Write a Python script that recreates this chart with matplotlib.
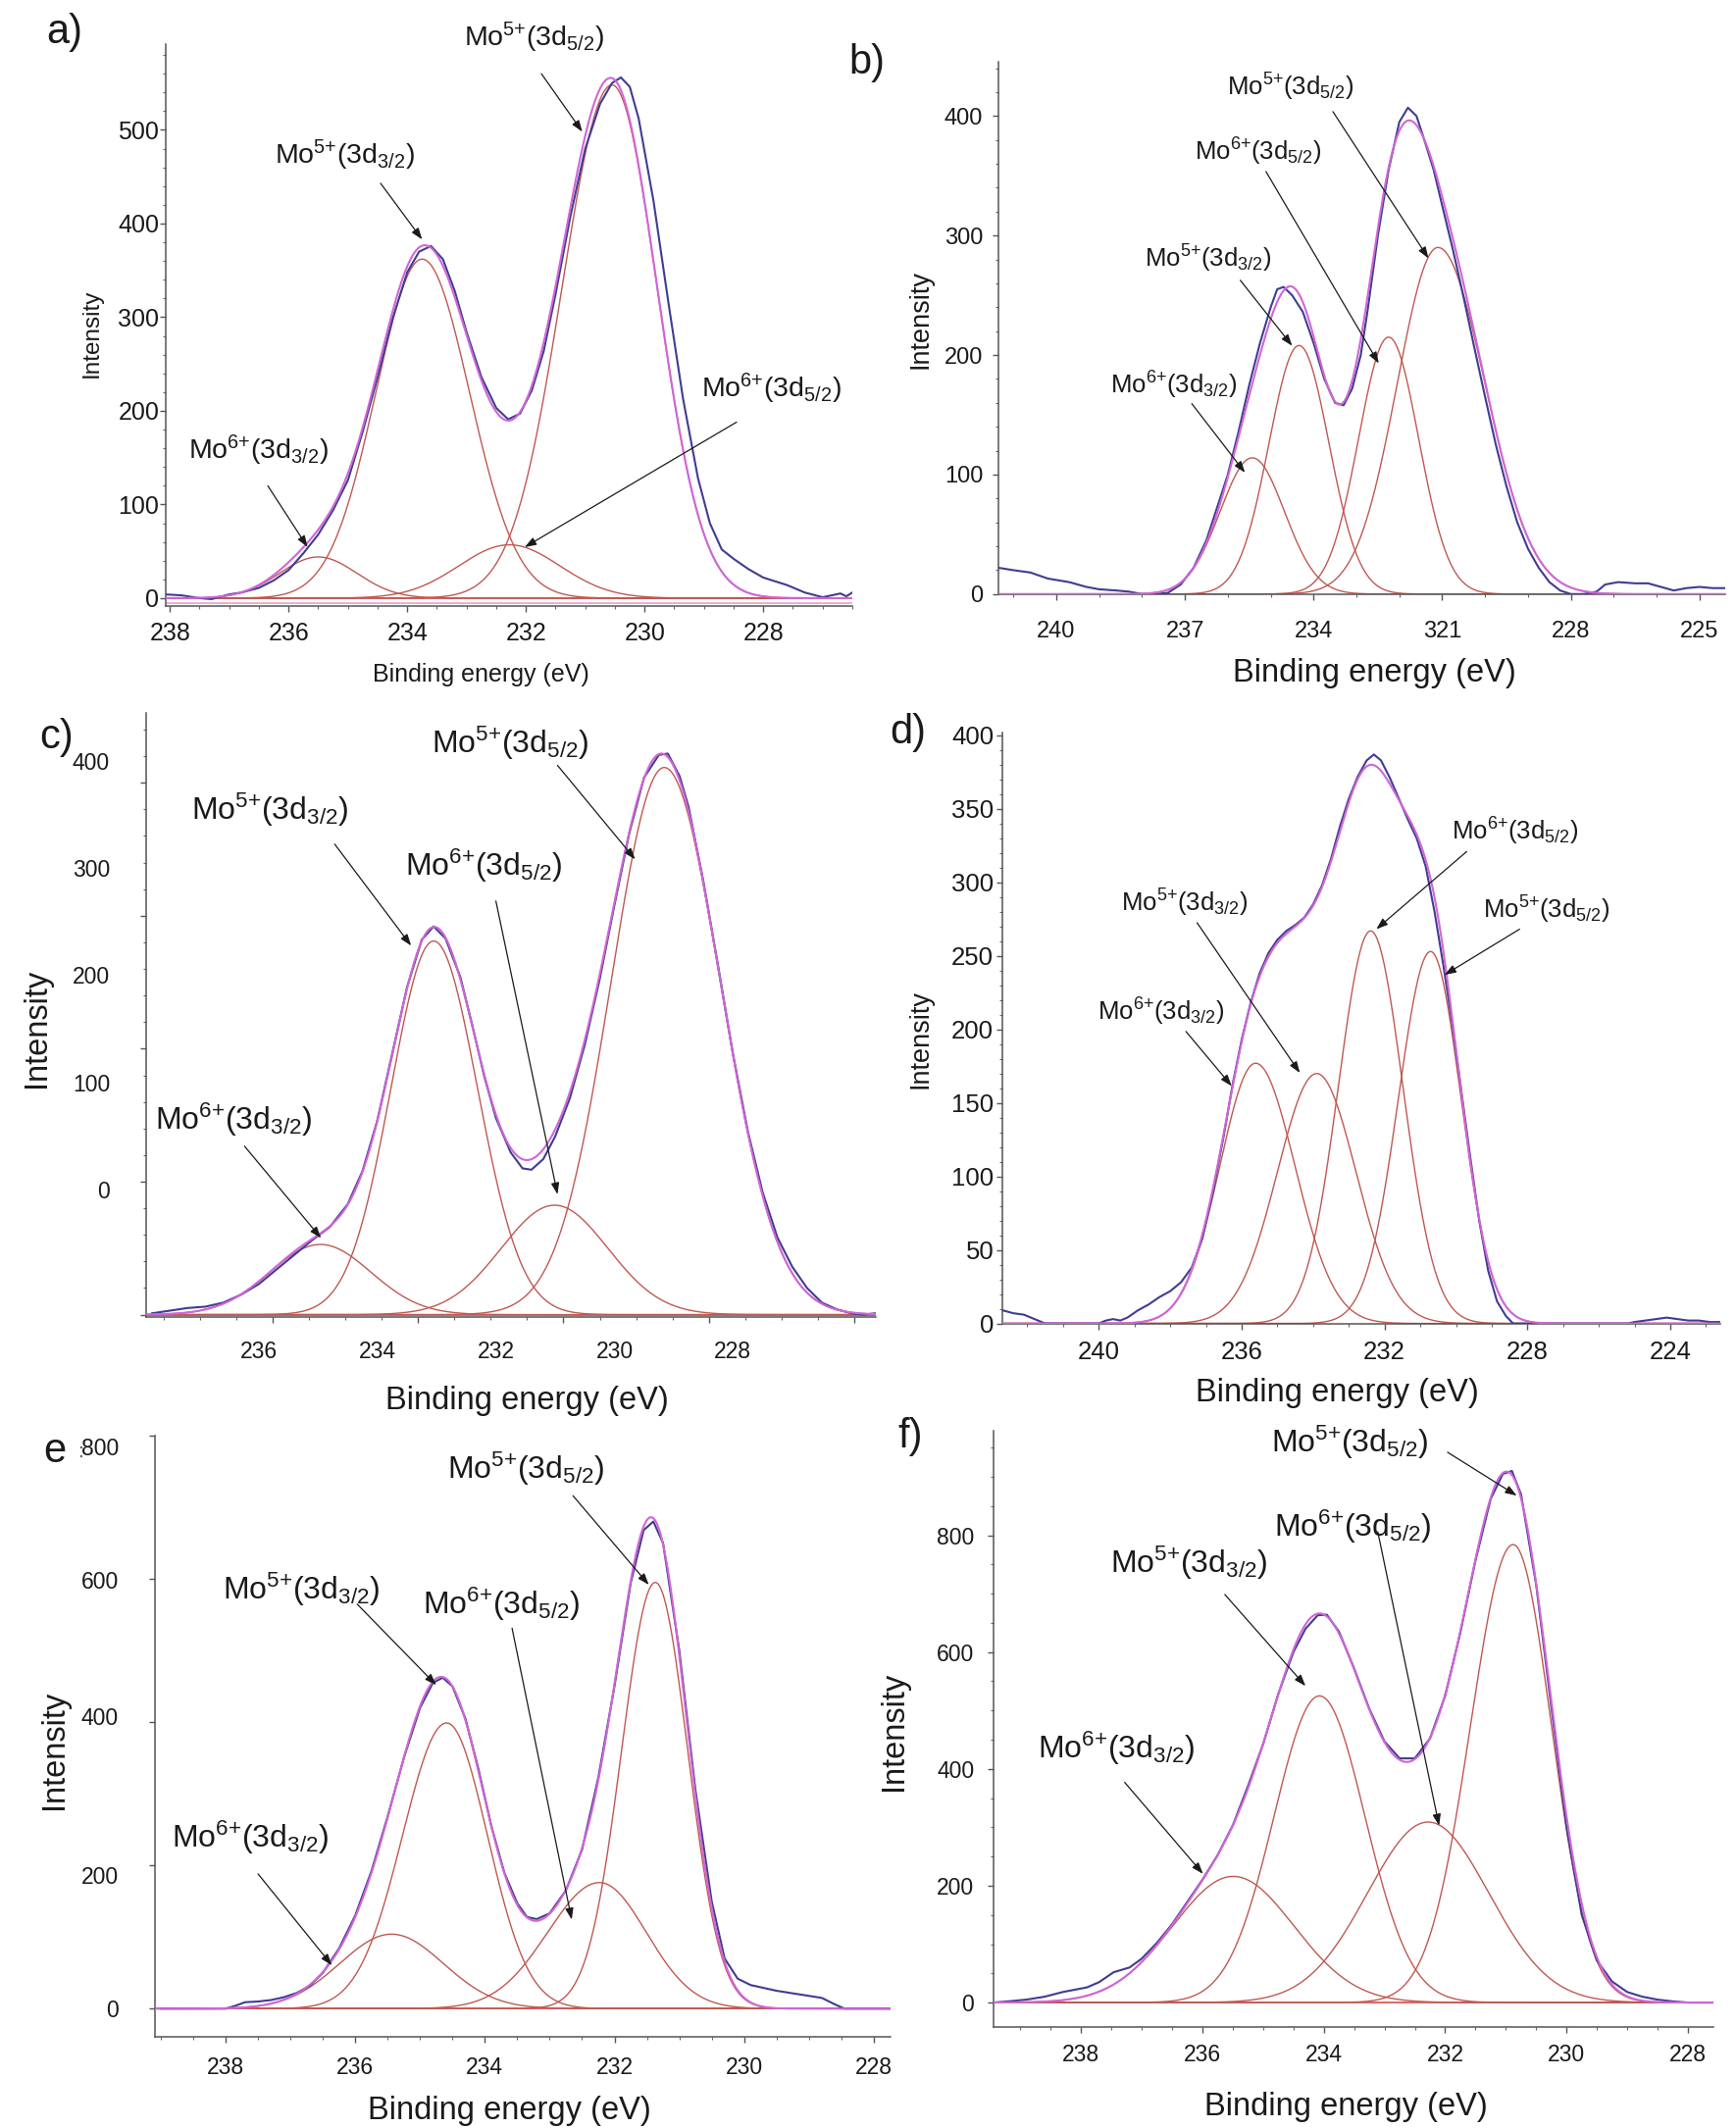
import matplotlib
matplotlib.use("Agg")
import matplotlib.pyplot as plt
import numpy as np
from matplotlib.ticker import MultipleLocator, FixedLocator

plt.rcParams["font.family"] = ["Liberation Sans", "DejaVu Sans"]
plt.rcParams["mathtext.fontset"] = "custom"
plt.rcParams["mathtext.rm"] = "Liberation Sans"
plt.rcParams["mathtext.it"] = "Liberation Sans:italic"
plt.rcParams["mathtext.bf"] = "Liberation Sans:bold"

# fitted components, same order in every panel
peak_names = [r"Mo$^{6{+}}$(3d$_{3/2}$)", r"Mo$^{5{+}}$(3d$_{3/2}$)",
              r"Mo$^{6{+}}$(3d$_{5/2}$)", r"Mo$^{5{+}}$(3d$_{5/2}$)"]

# ---- a) ----
a_center = [235.50, 233.75, 232.28, 230.55]
a_height = [44, 362, 57, 548]
a_sig_hi = [0.65, 0.78, 0.85, 0.84]   # width on the high binding energy side
a_sig_lo = [0.65, 0.80, 0.85, 0.76]   # width on the low binding energy side
a_raw_e = [238.07, 237.8, 237.5, 237.3, 237.0, 236.8, 236.5, 236.25, 236.0, 235.75, 235.5, 235.25,
           235.0, 234.75, 234.5, 234.25, 234.0, 233.8, 233.6, 233.4, 233.2, 233.0, 232.75, 232.5,
           232.3, 232.1, 231.9, 231.7, 231.5, 231.25, 231.0, 230.75, 230.55, 230.4, 230.25, 230.1,
           229.85, 229.6, 229.35, 229.1, 228.9, 228.7, 228.5, 228.25, 228.0, 227.6, 227.3, 227.0,
           226.85, 226.7, 226.6, 226.5]
a_raw_i = [4, 3, 0, -1, 4, 6, 11, 19, 30, 48, 68, 94, 126, 178, 236, 298, 348, 370, 376, 362, 328,
           284, 236, 203, 191, 197, 222, 264, 325, 408, 480, 528, 550, 556, 546, 512, 424, 316, 212,
           128, 80, 52, 42, 31, 22, 14, 6, 1, 3, 5, 2, 6]

# ---- b) ----
b_center = [235.43, 234.34, 232.25, 231.10]
b_height = [114, 208, 215, 290]
b_sig_hi = [0.75, 0.70, 0.70, 0.95]
b_sig_lo = [0.75, 0.70, 0.70, 1.10]
b_raw_e = [241.35, 241.0, 240.6, 240.2, 239.7, 239.3, 239.0, 238.6, 238.3, 238.0, 237.7, 237.4,
           237.1, 236.8, 236.5, 236.2, 236.0, 235.75, 235.5, 235.25, 235.0, 234.85, 234.7, 234.5,
           234.25, 234.0, 233.75, 233.5, 233.3, 233.1, 232.9, 232.75, 232.5, 232.25, 232.0, 231.8,
           231.6, 231.4, 231.2, 231.0, 230.75, 230.5, 230.25, 230.0, 229.75, 229.5, 229.25, 229.0,
           228.75, 228.5, 228.25, 228.0, 227.7, 227.4, 227.2, 226.9, 226.5, 226.2, 225.9, 225.6,
           225.3, 225.0, 224.7, 224.4]
b_raw_i = [22, 20, 18, 13, 10, 6, 4, 3, 2, 0, 0, 1, 8, 22, 45, 78, 100, 136, 175, 210, 240, 255,
           257, 250, 236, 210, 180, 160, 158, 172, 200, 235, 300, 355, 395, 407, 400, 378, 355, 325,
           288, 248, 206, 165, 125, 90, 60, 38, 22, 10, 3, 0, 0, 2, 8, 10, 9, 9, 6, 3, 5, 6, 5, 5]
b_tick_text = ["240", "237", "234", "321", "228", "225"]

# ---- c) ----
c_center = [234.96, 233.05, 231.01, 229.16]
c_height = [52.8, 281, 82.3, 411.5]
c_sig_hi = [0.85, 0.72, 0.90, 0.90]
c_sig_lo = [0.85, 0.74, 0.90, 0.95]
c_raw_e = [237.8, 237.5, 237.2, 236.9, 236.6, 236.3, 236.0, 235.7, 235.4, 235.1, 234.8, 234.5,
           234.25, 234.0, 233.75, 233.5, 233.25, 233.05, 232.85, 232.6, 232.4, 232.2, 232.0, 231.75,
           231.55, 231.4, 231.2, 231.0, 230.75, 230.5, 230.25, 230.0, 229.75, 229.5, 229.25, 229.1,
           228.9, 228.75, 228.5, 228.25, 228.0, 227.75, 227.5, 227.25, 227.0, 226.75, 226.5, 226.25,
           226.0, 225.8, 225.6]
c_raw_i = [1, 3, 5, 6, 9, 15, 23, 34, 45, 56, 66, 83, 108, 146, 196, 246, 282, 292, 283, 254, 218,
           180, 148, 122, 110, 109, 117, 134, 163, 203, 252, 308, 362, 404, 421, 422, 405, 382, 326,
           262, 196, 138, 92, 58, 36, 20, 9, 4, 1, 0, 1]
c_tick_text = ["236", "234", "232", "230", "228"]
c_ytick_text = ["0", "100", "200", "300", "400"]

# ---- d) ----
d_center = [235.61, 233.90, 232.39, 230.71]
d_height = [177, 170, 267, 253]
d_sig_hi = [1.00, 1.10, 0.90, 0.90]
d_sig_lo = [1.10, 1.10, 0.90, 0.85]
d_raw_e = [242.7, 242.4, 242.1, 241.8, 241.5, 241.0, 240.5, 240.0, 239.8, 239.6, 239.4, 239.2,
           238.9, 238.6, 238.3, 238.0, 237.7, 237.4, 237.1, 236.8, 236.5, 236.25, 236.0, 235.75,
           235.5, 235.25, 235.0, 234.75, 234.5, 234.25, 234.0, 233.75, 233.5, 233.25, 233.0, 232.75,
           232.5, 232.3, 232.1, 231.85, 231.6, 231.35, 231.1, 230.85, 230.6, 230.35, 230.1, 229.85,
           229.6, 229.35, 229.1, 228.85, 228.6, 228.4, 228.0, 225.5, 225.2, 225.0, 224.7, 224.4,
           224.1, 223.8, 223.5, 223.2, 222.9, 222.6]
d_raw_i = [9, 7, 6, 3, 0, 0, 0, 0, 2, 3, 2, 4, 9, 13, 18, 22, 28, 38, 58, 90, 128, 163, 193, 218,
           238, 252, 261, 267, 271, 276, 285, 298, 316, 338, 357, 372, 383, 387, 383, 371, 357, 343,
           330, 311, 280, 243, 203, 158, 113, 70, 36, 15, 5, 0, 0, 0, 0, 1, 2, 3, 4, 3, 2, 2, 1, 1]

# ---- e) ----
e_center = [235.44, 234.59, 232.23, 231.37]
e_height = [104, 398.8, 176, 595]
e_sig_hi = [0.80, 0.68, 0.80, 0.52]
e_sig_lo = [0.80, 0.63, 0.72, 0.50]
e_raw_e = [239.0, 238.5, 238.0, 237.85, 237.7, 237.5, 237.3, 237.1, 236.9, 236.7, 236.5, 236.25,
           236.0, 235.75, 235.5, 235.25, 235.0, 234.8, 234.65, 234.5, 234.3, 234.1, 233.9, 233.7,
           233.5, 233.35, 233.2, 233.0, 232.75, 232.5, 232.25, 232.0, 231.75, 231.55, 231.4, 231.25,
           231.0, 230.75, 230.5, 230.3, 230.1, 229.9, 229.5, 229.15, 228.8, 228.6, 228.45, 228.2,
           227.9, 227.74]
e_raw_i = [0, 0, 0, 4, 9, 10, 12, 16, 22, 32, 50, 84, 130, 192, 268, 350, 420, 455, 462, 450, 405,
           335, 255, 190, 147, 128, 125, 133, 165, 222, 322, 450, 594, 668, 680, 650, 500, 305, 150,
           70, 42, 33, 25, 20, 15, 6, 0, 0, 0, 0]
e_ytick_text = ["0", "200", "400", "600", "800"]

# ---- f) ----
f_center = [235.49, 234.07, 232.28, 230.88]
f_height = [216, 525, 309, 784]
f_sig_hi = [1.00, 0.75, 1.00, 0.70]
f_sig_lo = [1.00, 0.75, 1.00, 0.63]
f_raw_e = [239.44, 239.2, 238.9, 238.6, 238.3, 238.1, 237.9, 237.7, 237.46, 237.2, 237.0, 236.75,
           236.5, 236.25, 236.0, 235.75, 235.5, 235.25, 235.0, 234.75, 234.5, 234.3, 234.1, 233.95,
           233.75, 233.5, 233.25, 233.0, 232.75, 232.5, 232.25, 232.0, 231.75, 231.5, 231.25, 231.05,
           230.9, 230.75, 230.5, 230.25, 230.0, 229.75, 229.5, 229.25, 229.0, 228.75, 228.5, 228.25,
           228.0, 227.58]
f_raw_i = [0, 2, 5, 10, 18, 22, 26, 35, 52, 60, 75, 102, 134, 172, 210, 252, 303, 370, 442, 528,
           600, 640, 663, 664, 635, 572, 503, 447, 418, 418, 452, 525, 633, 757, 862, 905, 910, 870,
           715, 505, 300, 150, 72, 36, 18, 10, 5, 2, 0, 0]

RAW_BLUE = "#403c92"
ENV_PINK = "#d066d6"
COMP_RED = "#bf5852"
BASE_RED = "#de4a45"
INK = "#1a1a1a"

W, H = 1770, 2170

# page layout (pixel boxes of the six plots, label places in data units)
layout = {
    "a": dict(data=(a_center, a_height, a_sig_hi, a_sig_lo, a_raw_e, a_raw_i),
              box=(169, 44.6, 869, 618), xlim=(238.07, 226.5), ylim=(-8.4, 592),
              xmaj=2, xmin=0.5, ymaj=100, ymin=20, fs_tick=18, xpad=7.5, ypad=0.5,
              fs_ann=20.5, base=True, base2=-5,
              text=[(236.5, 158), (235.05, 473), (227.87, 224), (231.87, 598)],
              tail=[(236.35, 120), (234.45, 443), (228.45, 188), (231.74, 560)],
              head=[(235.68, 54.5), (233.75, 383), (232.02, 54.5), (231.05, 498)],
              letter="a)", letter_xy=(66, 33), xlab=(490, 688, 18), ylab=(94, 340, 17.5)),
    "b": dict(data=(b_center, b_height, b_sig_hi, b_sig_lo, b_raw_e, b_raw_i),
              box=(1018, 62.5, 1759, 605.8), xlim=(241.35, 224.4), ylim=(0, 445.8),
              xticks=[240, 237, 234, 231, 228, 225], xticklabels=b_tick_text,
              xmin=1, ymaj=100, ymin=20, fs_tick=17, xpad=15, ypad=7,
              fs_ann=18.5, base=False,
              text=[(237.26, 174.7), (236.47, 280.9), (235.3, 369.9), (234.54, 423.8)],
              tail=[(236.84, 159.3), (235.71, 262.6), (235.11, 353.5), (233.55, 403.7)],
              head=[(235.6, 101.6), (234.5, 207.7), (232.48, 193), (231.32, 280.9)],
              letter="b)", letter_xy=(884, 64), xlab=(1401, 686, 23.5), ylab=(938, 326, 19.5)),
    "c": dict(data=(c_center, c_height, c_sig_hi, c_sig_lo, c_raw_e, c_raw_i),
              box=(149, 726.8, 893, 1342.9), xlim=(237.9, 225.59), ylim=(-1.7, 452.7),
              xmarks=[235.76, 233.31, 230.86, 228.41, 225.96], xmark_step=0.6125,
              xtext_at=[236, 234, 232, 230, 228], xtext=c_tick_text, xtext_off=0.058,
              ymaj=100, ymin=20, ytext_at=[92.2, 172.9, 253.6, 334.2, 414.9], ytext=c_ytick_text,
              ytext_off=0.0497, fs_tick=16.5, xpad=4, ypad=4,
              fs_ann=23, base=True,
              text=[(236.43, 146.5), (235.81, 379.6), (232.2, 337.5), (231.75, 429.6)],
              tail=[(236.24, 126.7), (234.72, 353.9), (232.0, 311.1), (230.96, 413.1)],
              head=[(234.95, 57.6), (233.43, 277.5), (230.96, 90.5), (229.65, 342.4)],
              letter="c)", letter_xy=(58, 752), xlab=(537, 1428, 23.5), ylab=(38, 1048, 23.5)),
    "d": dict(data=(d_center, d_height, d_sig_hi, d_sig_lo, d_raw_e, d_raw_i),
              box=(1022, 746.9, 1754, 1349.6), xlim=(242.7, 222.6), ylim=(0, 402),
              xmaj=4, xmin=1, ymaj=50, ymin=10, fs_tick=18.5, xpad=8.5, ypad=2,
              fs_ann=18.5, base=False,
              text=[(238.26, 211.9), (237.59, 286), (228.34, 334.9), (227.47, 281.5)],
              tail=[(237.56, 198.6), (237.25, 272.6), (229.7, 321), (228.22, 268.2)],
              head=[(236.28, 161.5), (234.37, 170.4), (232.23, 268.2), (230.32, 237.1)],
              letter="d)", letter_xy=(926, 747), xlab=(1363, 1420, 23.5), ylab=(938, 1060, 19.5)),
    "e": dict(data=(e_center, e_height, e_sig_hi, e_sig_lo, e_raw_e, e_raw_i),
              box=(158, 1463.9, 908, 2076.8), xlim=(239.09, 227.74), ylim=(-39, 800),
              xmaj=2, xmin=0.5, ymaj=200, ytext_at=[-3, 183, 405, 595, 781], ytext=e_ytick_text,
              ytext_off=0.0493, fs_tick=16.5, xpad=10.5, ypad=4,
              fs_ann=23, base=True,
              text=[(237.62, 238.6), (236.83, 585), (233.75, 564.7), (233.36, 753)],
              tail=[(237.5, 188.2), (235.97, 564.7), (233.58, 531.1), (232.64, 716)],
              head=[(236.36, 60.5), (234.75, 451.7), (232.66, 124.3), (231.47, 591.7)],
              letter="e", letter_xy=(56, 1480), xlab=(519, 2152, 23.5), ylab=(55, 1784, 23.5)),
    "f": dict(data=(f_center, f_height, f_sig_hi, f_sig_lo, f_raw_e, f_raw_i),
              box=(1013, 1458.9, 1747, 2066.5), xlim=(239.44, 227.58), ylim=(-41, 979),
              xmaj=2, xmin=0.5, ymaj=200, ymin=50, fs_tick=16.5, xpad=8, ypad=10,
              fs_ann=23, base=True,
              text=[(237.41, 434.9), (236.22, 752.3), (233.52, 814), (233.57, 958.5)],
              tail=[(237.28, 377), (235.63, 698.6), (233.11, 806), (231.96, 942)],
              head=[(235.99, 220.3), (234.3, 541.9), (232.1, 302.8), (230.82, 867.8)],
              letter="f)", letter_xy=(928, 1465), xlab=(1372, 2148, 23.5), ylab=(912, 1765, 23.5)),
}


def split_gauss(x, c, h, s_hi, s_lo):
    s = np.where(x > c, s_hi, s_lo)
    return h * np.exp(-0.5 * ((x - c) / s) ** 2)


def px_box(l, t, r, b):
    return [l / W, 1 - b / H, (r - l) / W, (b - t) / H]


fig = plt.figure(figsize=(W / 100, H / 100), dpi=100)

for key, p in layout.items():
    center, height, sig_hi, sig_lo, raw_e, raw_i = p["data"]
    ax = fig.add_axes(px_box(*p["box"]))
    x = np.linspace(p["xlim"][0], p["xlim"][1], 1500)
    comps = [split_gauss(x, c, h, sh, sl) for c, h, sh, sl in zip(center, height, sig_hi, sig_lo)]
    env = np.sum(comps, axis=0)

    if p["base"]:
        ax.axhline(0, color=BASE_RED, lw=1.2, zorder=1)
    if "base2" in p:
        ax.axhline(p["base2"], color="#e6a3c8", lw=1.2, zorder=1)
    for y in comps:
        ax.plot(x, y, color=COMP_RED, lw=1.0, zorder=2)
    ax.plot(raw_e, raw_i, color=RAW_BLUE, lw=1.5, zorder=3)
    ax.plot(x, env, color=ENV_PINK, lw=1.5, zorder=4)

    ax.set_xlim(*p["xlim"])
    ax.set_ylim(*p["ylim"])
    for s in ("top", "right"):
        ax.spines[s].set_visible(False)
    for s in ("left", "bottom"):
        ax.spines[s].set_color("#555555")
        ax.spines[s].set_linewidth(1.1)

    # x ticks
    if "xticks" in p:
        ax.set_xticks(p["xticks"])
        ax.set_xticklabels(p["xticklabels"])
    elif "xmarks" in p:
        ax.xaxis.set_major_locator(FixedLocator(p["xmarks"]))
        step = p["xmark_step"]
        lo = min(p["xlim"])
        hi = max(p["xlim"])
        minors = p["xmarks"][-1] + step * np.arange(-2, 40)
        ax.xaxis.set_minor_locator(FixedLocator(minors[(minors > lo) & (minors < hi)]))
    else:
        ax.xaxis.set_major_locator(MultipleLocator(p["xmaj"]))
    if "xmin" in p:
        ax.xaxis.set_minor_locator(MultipleLocator(p["xmin"]))

    # y ticks
    ax.yaxis.set_major_locator(MultipleLocator(p["ymaj"]))
    if "ymin" in p:
        ax.yaxis.set_minor_locator(MultipleLocator(p["ymin"]))

    ax.tick_params(which="major", direction="out", length=4.3, width=1.0, color="#555555",
                   labelcolor=INK, labelsize=p["fs_tick"])
    ax.tick_params(which="minor", direction="out", length=2.5, width=0.8, color="#666666")
    ax.tick_params(axis="x", which="major", pad=p["xpad"])
    ax.tick_params(axis="y", which="major", pad=p["ypad"])

    if "xtext" in p:
        ax.tick_params(axis="x", labelbottom=False)
        for v, s in zip(p["xtext_at"], p["xtext"]):
            ax.text(v, -p["xtext_off"], s, transform=ax.get_xaxis_transform(), ha="center",
                    va="center", fontsize=p["fs_tick"], color=INK)
    if "ytext" in p:
        ax.tick_params(axis="y", labelleft=False)
        for v, s in zip(p["ytext_at"], p["ytext"]):
            ax.text(-p["ytext_off"], v, s, transform=ax.get_yaxis_transform(), ha="right",
                    va="center", fontsize=p["fs_tick"], color=INK)

    # peak labels and arrows
    for name, tp, tail, head in zip(peak_names, p["text"], p["tail"], p["head"]):
        ax.text(tp[0], tp[1], name, fontsize=p["fs_ann"], ha="center", va="center", color=INK,
                clip_on=False, zorder=6)
        ax.annotate("", xy=head, xytext=tail, annotation_clip=False, zorder=6,
                    arrowprops=dict(arrowstyle="-|>,head_length=0.7,head_width=0.25",
                                    color=INK, lw=0.9, shrinkA=0, shrinkB=0))

    lx, ly, lfs = p["xlab"]
    fig.text(lx / W, 1 - ly / H, "Binding energy (eV)", fontsize=lfs, ha="center", va="center",
             color=INK)
    yx, yy, yfs = p["ylab"]
    fig.text(yx / W, 1 - yy / H, "Intensity", fontsize=yfs, rotation=90, ha="center",
             va="center", color=INK)
    tx, ty = p["letter_xy"]
    fig.text(tx / W, 1 - ty / H, p["letter"], fontsize=30, ha="center", va="center", color=INK)

# remains of the bracket after "e"
fig.text(82 / W, 1 - 1480 / H, ":", fontsize=15, ha="center", va="center", color="#555555")

fig.savefig("out.png", dpi=100)
